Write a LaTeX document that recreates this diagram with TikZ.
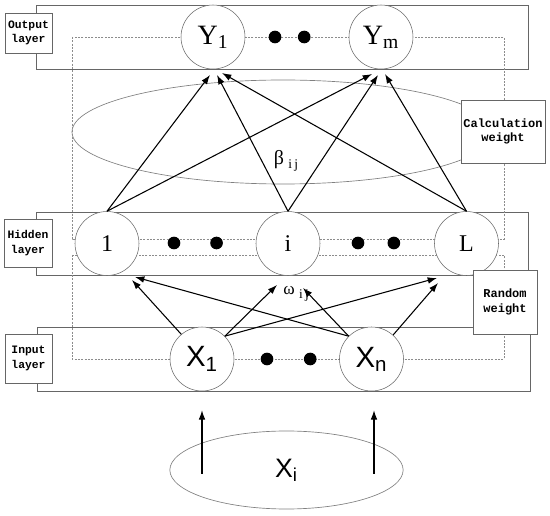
\documentclass[tikz,border=0pt]{standalone}
\usepackage{fontspec}
\setmainfont{Liberation Serif}
\setsansfont{Liberation Sans}
\setmonofont{Liberation Mono}
\usetikzlibrary{arrows.meta,positioning,shapes.geometric}
\tikzset{
    unit/.style={circle,draw=black!60,fill=white,minimum size=48pt,inner sep=0pt,font=\fontsize{21}{21}\selectfont},
    hunit/.style={unit,font=\fontsize{18}{18}\selectfont},
    xunit/.style={unit,font=\sffamily\fontsize{22}{22}\selectfont},
    dot/.style={circle,fill=black,minimum size=9.5pt,inner sep=0pt},
    tag/.style={draw=black!60,fill=white,align=center,inner sep=0pt,font=\ttfamily\bfseries\fontsize{8.5}{11}\selectfont},
    wtag/.style={tag,font=\ttfamily\bfseries\fontsize{9}{11}\selectfont},
    layer/.style={draw=black!60,line width=0.6pt},
    guide/.style={draw=black!45,line width=0.5pt,dash pattern=on 1.5pt off 1pt},
    area/.style={ellipse,draw=black!50,line width=0.5pt,inner sep=0pt},
    pre/.style={-{Latex[length=7pt,width=5pt]},line width=0.8pt}
}

\begin{document}
\begin{tikzpicture}[x=0.75pt,y=-0.75pt]
    \useasboundingbox (0,0) rectangle (550,516);

    % layer frames
    \draw[layer] (36,5)   rectangle (528,69);
    \draw[layer] (36,212) rectangle (528,275);
    \draw[layer] (37,327) rectangle (530,391);

    \node[area,minimum width=316.5pt,minimum height=78pt] (calcarea) at (283,132) {};

    % dashed guides
    \draw[guide] (72,37)  rectangle (504,239);
    \draw[guide] (72,255) rectangle (504,359);

    % output layer
    \node[unit] (y1) at (213,37)   {Y\textsubscript{1}};
    \node[unit] (ym) at (381,37)   {Y\textsubscript{m}};
    \node[dot]  (od1) at (275,37)  {};
    \node[dot]  (od2) [right=12pt of od1] {};

    % hidden layer
    \node[hunit] (h1) at (107,243.5) {1};
    \node[hunit] (hi) at (288,243.5) {i};
    \node[hunit] (hL) at (466.5,243.5) {L};
    \node[dot]  (hd1) at (174,243) {};
    \node[dot]  (hd2) [right=22pt of hd1] {};
    \node[dot]  (hd3) at (358,243) {};
    \node[dot]  (hd4) [right=17pt of hd3] {};

    % input layer
    \node[xunit] (x1) at (202,359)   {X\textsubscript{1}};
    \node[xunit] (xn) at (371.5,359) {X\textsubscript{n}};
    \node[dot]  (id1) at (267,359) {};
    \node[dot]  (id2) [right=22.5pt of id1] {};

    \node[area,minimum width=175pt,minimum height=58.5pt,font=\sffamily\fontsize{20}{20}\selectfont] (xi) at (286.5,470) {X\textsubscript{i}};

    % tags
    \node[tag,minimum width=35pt,minimum height=30pt]    (outtag) at (28.5,33)    {Output\\layer};
    \node[tag,minimum width=36pt,minimum height=36pt]    (hidtag) at (28,243)     {Hidden\\layer};
    \node[tag,minimum width=35pt,minimum height=36.5pt]  (intag)  at (28.5,358.5) {Input\\layer};
    \node[wtag,minimum width=63pt,minimum height=47pt]   (calctag) at (503,131.5) {Calculation\\weight};
    \node[wtag,minimum width=48pt,minimum height=48pt]   (randtag) at (505,302)   {Random\\weight};

    \node (beta)  at (286,161) {{\fontsize{15}{15}\selectfont β}\,\,\raisebox{-0.7ex}{\fontsize{10}{10}\selectfont i\,j}};
    \node (omega) at (296,294) {{\fontsize{13}{13}\selectfont ω}\,\,\raisebox{-0.7ex}{\fontsize{10}{10}\selectfont i\,j}};

    % hidden -> output
    \draw[pre] (h1.north) -- ([shift={(-3,38)}]y1.center);
    \draw[pre] (h1.north) -- ([shift={(-9,37)}]ym.center);
    \draw[pre] (hi.north) -- ([shift={(4,38)}]y1.center);
    \draw[pre] (hi.north) -- ([shift={(-3,38)}]ym.center);
    \draw[pre] (hL.north) -- ([shift={(9,36)}]y1.center);
    \draw[pre] (hL.north) -- ([shift={(4,37)}]ym.center);

    % input -> hidden
    \draw[pre] (x1.130) -- ([shift={(25,36.5)}]h1.center);
    \draw[pre] (x1.45)  -- ([shift={(-11,41.5)}]hi.center);
    \draw[pre] (x1.45)  -- ([shift={(-29.5,34.5)}]hL.center);
    \draw[pre] (xn.135) -- ([shift={(28,33.5)}]h1.center);
    \draw[pre] (xn.135) -- ([shift={(15,44.5)}]hi.center);
    \draw[pre] (xn.48)  -- ([shift={(-28.5,39.5)}]hL.center);

    % samples -> input
    \draw[pre] ([shift={(0,4)}]x1 |- xi.center) -- ([shift={(0,19)}]x1.south);
    \draw[pre] ([shift={(2.5,4)}]xn |- xi.center) -- ([shift={(2.5,19)}]xn.south);

\end{tikzpicture}
\end{document}
